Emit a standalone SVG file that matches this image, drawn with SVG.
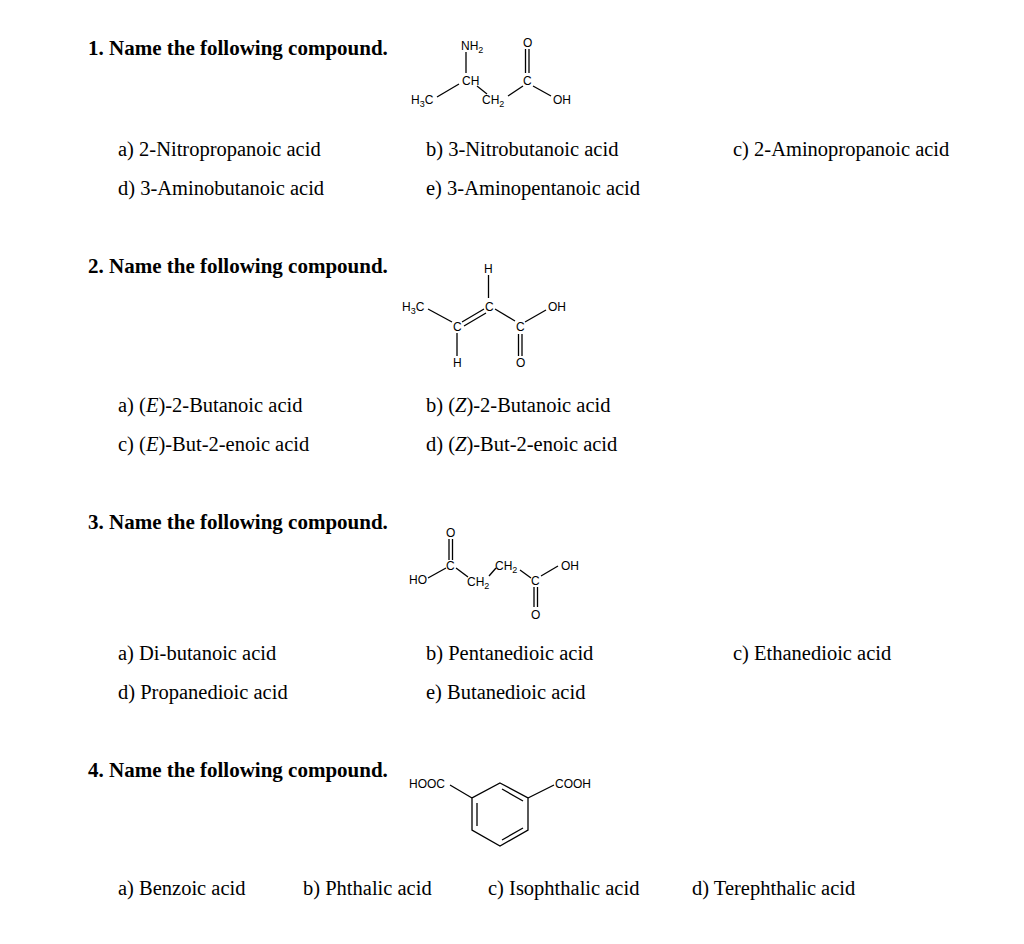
<svg xmlns="http://www.w3.org/2000/svg" width="1024" height="944" viewBox="0 0 1024 944">
<style>
.h{font-family:"Liberation Serif",serif;font-size:21px;font-weight:bold;fill:#000}
.o{font-family:"Liberation Serif",serif;font-size:20.5px;fill:#000}
.a{font-family:"Liberation Sans",Arial,sans-serif;font-size:12px;fill:#000}
.s{font-size:9px}
line,polygon{stroke:#000;stroke-width:1.3;fill:none}
</style>
<rect width="1024" height="944" fill="#fff"/>
<g id="q1">
<text class="h" x="88" y="55">1.  Name the following compound.</text>
<text class="o" x="118" y="156">a) 2-Nitropropanoic acid</text>
<text class="o" x="426" y="156">b) 3-Nitrobutanoic acid</text>
<text class="o" x="733" y="156">c) 2-Aminopropanoic acid</text>
<text class="o" x="118" y="195">d) 3-Aminobutanoic acid</text>
<text class="o" x="426" y="195">e) 3-Aminopentanoic acid</text>
</g>
<g id="m1">
<text class="a" x="461" y="50">NH<tspan class="s" dy="3">2</tspan></text>
<text class="a" x="462" y="85">CH</text>
<text class="a" x="411" y="104">H<tspan class="s" dy="3">3</tspan><tspan dy="-3">C</tspan></text>
<text class="a" x="482" y="104">CH<tspan class="s" dy="3">2</tspan></text>
<text class="a" x="523" y="85">C</text>
<text class="a" x="523" y="47">O</text>
<text class="a" x="553" y="104">OH</text>
<line x1="466" y1="52" x2="466" y2="73"/>
<line x1="437" y1="97" x2="459" y2="84"/>
<line x1="477" y1="86" x2="487" y2="94"/>
<line x1="508" y1="96" x2="523" y2="86"/>
<line x1="525.5" y1="49" x2="525.5" y2="73"/><line x1="529" y1="49" x2="529" y2="73"/>
<line x1="533" y1="86" x2="551" y2="96"/>
</g>
<g id="q2">
<text class="h" x="88" y="273">2. Name the following compound.</text>
<text class="o" x="118" y="412">a) (<tspan font-style="italic">E</tspan>)-2-Butanoic acid</text>
<text class="o" x="426" y="412">b) (<tspan font-style="italic">Z</tspan>)-2-Butanoic acid</text>
<text class="o" x="118" y="451">c) (<tspan font-style="italic">E</tspan>)-But-2-enoic acid</text>
<text class="o" x="426" y="451">d) (<tspan font-style="italic">Z</tspan>)-But-2-enoic acid</text>
</g>
<g id="m2">
<text class="a" x="484" y="273">H</text>
<text class="a" x="485" y="311">C</text>
<text class="a" x="402" y="311">H<tspan class="s" dy="3">3</tspan><tspan dy="-3">C</tspan></text>
<text class="a" x="453" y="331">C</text>
<text class="a" x="453" y="367">H</text>
<text class="a" x="516" y="331">C</text>
<text class="a" x="516" y="367">O</text>
<text class="a" x="548" y="311">OH</text>
<line x1="488.5" y1="275" x2="488.5" y2="298"/>
<line x1="428" y1="309" x2="452" y2="322"/>
<line x1="462" y1="322" x2="484" y2="309"/><line x1="464" y1="326" x2="486" y2="313"/>
<line x1="457" y1="333" x2="457" y2="356"/>
<line x1="495" y1="309" x2="515" y2="321"/>
<line x1="525" y1="322" x2="546" y2="310"/>
<line x1="518.5" y1="334" x2="518.5" y2="356"/><line x1="522" y1="334" x2="522" y2="356"/>
</g>
<g id="q3">
<text class="h" x="88" y="529">3.  Name the following compound.</text>
<text class="o" x="118" y="660">a) Di-butanoic acid</text>
<text class="o" x="426" y="660">b) Pentanedioic acid</text>
<text class="o" x="733" y="660">c) Ethanedioic acid</text>
<text class="o" x="118" y="699">d) Propanedioic acid</text>
<text class="o" x="426" y="699">e) Butanedioic acid</text>
</g>
<g id="m3">
<text class="a" x="446" y="537">O</text>
<text class="a" x="446" y="570">C</text>
<text class="a" x="409" y="584">HO</text>
<text class="a" x="467" y="586">CH<tspan class="s" dy="3">2</tspan></text>
<text class="a" x="495" y="570">CH<tspan class="s" dy="3">2</tspan></text>
<text class="a" x="531" y="585">C</text>
<text class="a" x="531" y="619">O</text>
<text class="a" x="561" y="570">OH</text>
<line x1="449" y1="539" x2="449" y2="560"/><line x1="452.5" y1="539" x2="452.5" y2="560"/>
<line x1="428" y1="578" x2="446" y2="568"/>
<line x1="456" y1="568" x2="468" y2="577"/>
<line x1="489" y1="576" x2="496" y2="568"/>
<line x1="520" y1="570" x2="531" y2="578"/>
<line x1="541" y1="576" x2="558" y2="566"/>
<line x1="534" y1="587" x2="534" y2="607"/><line x1="537.5" y1="587" x2="537.5" y2="607"/>
</g>
<g id="q4">
<text class="h" x="88" y="777">4.  Name the following compound.</text>
<text class="o" x="118" y="895">a) Benzoic acid</text>
<text class="o" x="303" y="895">b) Phthalic acid</text>
<text class="o" x="488" y="895">c) Isophthalic acid</text>
<text class="o" x="692" y="895">d) Terephthalic acid</text>
</g>
<g id="m4">
<text class="a" x="409" y="788">HOOC</text>
<text class="a" x="555" y="788">COOH</text>
<polygon points="500,783 528,798 528,830 500,846 472,830 472,798"/>
<line x1="472" y1="798" x2="450" y2="785"/>
<line x1="528" y1="798" x2="554" y2="785"/>
<line x1="477" y1="803" x2="477" y2="826"/>
<line x1="502" y1="789" x2="523" y2="801"/>
<line x1="502" y1="840" x2="523" y2="828"/>
</g>
</svg>
